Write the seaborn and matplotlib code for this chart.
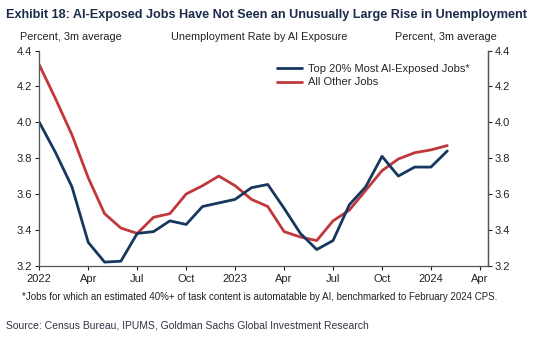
import matplotlib
matplotlib.use("Agg")
import matplotlib.pyplot as plt
import seaborn as sns
import pandas as pd
from matplotlib.lines import Line2D

# ---- data ----
month_index = list(range(26))  # Jan 2022 .. Feb 2024
top20_ai_exposed = [4.00, 3.83, 3.64, 3.33, 3.22, 3.225, 3.38, 3.39, 3.45, 3.43, 3.53, 3.55, 3.57,
                    3.635, 3.653, 3.52, 3.38, 3.29, 3.34, 3.54, 3.64, 3.81, 3.70, 3.75, 3.75, 3.84]
all_other_jobs = [4.32, 4.13, 3.93, 3.69, 3.49, 3.41, 3.38, 3.47, 3.49, 3.60, 3.646, 3.70, 3.646,
                  3.57, 3.53, 3.39, 3.36, 3.34, 3.45, 3.51, 3.62, 3.73, 3.795, 3.83, 3.846, 3.87]
series_names = ["Top 20% Most AI-Exposed Jobs*", "All Other Jobs"]
x_tick_pos = [0, 3, 6, 9, 12, 15, 18, 21, 24, 27]
x_tick_labels = ["2022", "Apr", "Jul", "Oct", "2023", "Apr", "Jul", "Oct", "2024", "Apr"]
y_ticks = [3.2, 3.4, 3.6, 3.8, 4.0, 4.2, 4.4]

df = pd.DataFrame({
    "month": month_index * 2,
    "value": top20_ai_exposed + all_other_jobs,
    "series": [series_names[0]] * 26 + [series_names[1]] * 26,
})

sns.set_style("ticks")
plt.rcParams["font.family"] = ["Liberation Sans", "DejaVu Sans"]

BLUE = "#17375e"
RED = "#c0383c"
palette = {series_names[0]: BLUE, series_names[1]: RED}

fig = plt.figure(figsize=(5.34, 3.56), dpi=100)
ax = fig.add_axes([0.0736, 0.2537, 0.914 - 0.0736, 0.858 - 0.2537])

sns.lineplot(data=df, x="month", y="value", hue="series", palette=palette,
             hue_order=[series_names[1], series_names[0]], linewidth=2.0, ax=ax, legend=False)

ax.set_xlim(0, 27.5)
ax.set_ylim(3.2, 4.4)
ax.set_xticks(x_tick_pos)
ax.set_xticklabels(x_tick_labels)
ax.set_yticks(y_ticks)
ax.set_yticklabels([f"{v:.1f}" for v in y_ticks])
ax.set_xlabel("")
ax.set_ylabel("")
ax.spines["top"].set_visible(False)
ax.spines["right"].set_visible(True)
for s in ["left", "right", "bottom"]:
    ax.spines[s].set_color("#555555")
    ax.spines[s].set_linewidth(0.9)
ax.tick_params(axis="both", labelsize=8, colors="#222222", length=3, width=0.8, pad=2)
ax.tick_params(axis="x", pad=3)

ax2 = ax.twinx()
ax2.set_ylim(3.2, 4.4)
ax2.set_yticks(y_ticks)
ax2.set_yticklabels([f"{v:.1f}" for v in y_ticks])
for s in ["top", "left", "bottom"]:
    ax2.spines[s].set_visible(False)
ax2.spines["right"].set_color("#555555")
ax2.spines["right"].set_linewidth(0.9)
ax2.tick_params(axis="y", labelsize=8, colors="#222222", length=3, width=0.8, pad=2)

handles = [Line2D([], [], color=BLUE, lw=2.0), Line2D([], [], color=RED, lw=2.0)]
ax.legend(handles, series_names, loc="upper left", bbox_to_anchor=(0.52, 0.96), frameon=False,
          fontsize=8, handlelength=2.2, handletextpad=0.6, labelspacing=0.35, borderaxespad=0)

fig.text(0.012, 0.958, "Exhibit 18: AI-Exposed Jobs Have Not Seen an Unusually Large Rise in Unemployment",
         fontsize=9.1, fontweight="bold", color="#1c2b4a", va="center", ha="left")
fig.text(0.038, 0.895, "Percent, 3m average", fontsize=7.8, color="#222222", ha="left", va="center")
fig.text(0.485, 0.895, "Unemployment Rate by AI Exposure", fontsize=7.8, color="#222222", ha="center", va="center")
fig.text(0.931, 0.895, "Percent, 3m average", fontsize=7.8, color="#222222", ha="right", va="center")
fig.text(0.487, 0.166, "*Jobs for which an estimated 40%+ of task content is automatable by AI, benchmarked to February 2024 CPS.",
         fontsize=7.05, color="#222222", ha="center", va="center")
fig.text(0.011, 0.087, "Source: Census Bureau, IPUMS, Goldman Sachs Global Investment Research",
         fontsize=7.5, color="#333344", ha="left", va="center")

fig.savefig("out.png", dpi=100)
